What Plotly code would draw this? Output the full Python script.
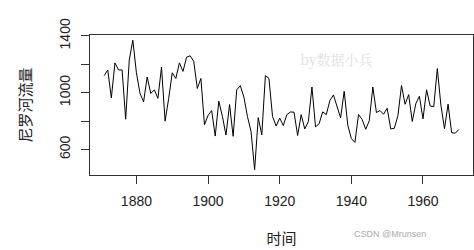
import plotly.graph_objects as go

years = list(range(1871, 1971))
flow = [1120, 1160, 963, 1210, 1160, 1160, 813, 1230, 1370, 1140, 995, 935, 1110, 994, 1020,
        960, 1180, 799, 958, 1140, 1100, 1210, 1150, 1250, 1260, 1220, 1030, 1100, 774, 840,
        874, 694, 940, 833, 701, 916, 692, 1020, 1050, 969, 831, 726, 456, 824, 702, 1120,
        1100, 832, 764, 821, 768, 845, 864, 862, 698, 845, 744, 796, 1040, 759, 781, 865,
        845, 944, 984, 897, 822, 1010, 771, 676, 649, 846, 812, 742, 801, 1040, 860, 874,
        848, 890, 744, 749, 838, 1050, 918, 986, 797, 923, 975, 815, 1020, 906, 901, 1170,
        912, 746, 919, 718, 714, 740]
x_ticks = [1880, 1900, 1920, 1940, 1960]
y_ticks = [600, 800, 1000, 1200, 1400]
y_ticktext = ["600", "", "1000", "", "1400"]

fig = go.Figure()
fig.add_trace(go.Scatter(x=years, y=flow, mode="lines",
                         line=dict(color="black", width=1), showlegend=False))

fig.update_layout(
    width=474, height=250,
    margin=dict(l=90, r=1, t=35, b=75),
    paper_bgcolor="white", plot_bgcolor="white",
    font=dict(family="Liberation Sans, Arial", size=14, color="#222"),
)
fig.update_xaxes(range=[1867.04, 1973.96], tickvals=x_ticks, ticks="outside", ticklen=8,
                 tickcolor="#333", showline=True, linecolor="#333", linewidth=1, mirror=True,
                 showgrid=False, zeroline=False, ticklabelstandoff=5,
                 title=dict(text="时间", font=dict(family="Noto Sans CJK SC", size=15), standoff=25))
fig.update_yaxes(range=[419.4, 1406.6], tickvals=y_ticks, ticktext=y_ticktext, ticks="outside",
                 ticklen=8, tickcolor="#333", showline=True, linecolor="#333", linewidth=1,
                 mirror=True, showgrid=False, zeroline=False, tickangle=-90, ticklabelstandoff=5,
                 title=dict(text="尼罗河流量", font=dict(family="Noto Sans CJK SC", size=15), standoff=22))

fig.add_annotation(x=336, y=47, text="by数据小兵", showarrow=False,
                   font=dict(family="Noto Serif CJK SC, serif", size=14, color="#e0e0e0"))
fig.add_annotation(x=428, y=241, text="CSDN @Mrunsen", showarrow=False,
                   font=dict(family="Liberation Sans", size=9, color="#aaaaaa"))

# convert pixel positions to paper coords for annotations
pw, ph = 474 - 90 - 1, 250 - 35 - 75
for ann in fig.layout.annotations:
    px, py = ann.x, ann.y
    ann.xref = "paper"; ann.yref = "paper"
    ann.x = (px - 90) / pw
    ann.y = 1 - (py - 35) / ph

fig.write_html("out.html")
